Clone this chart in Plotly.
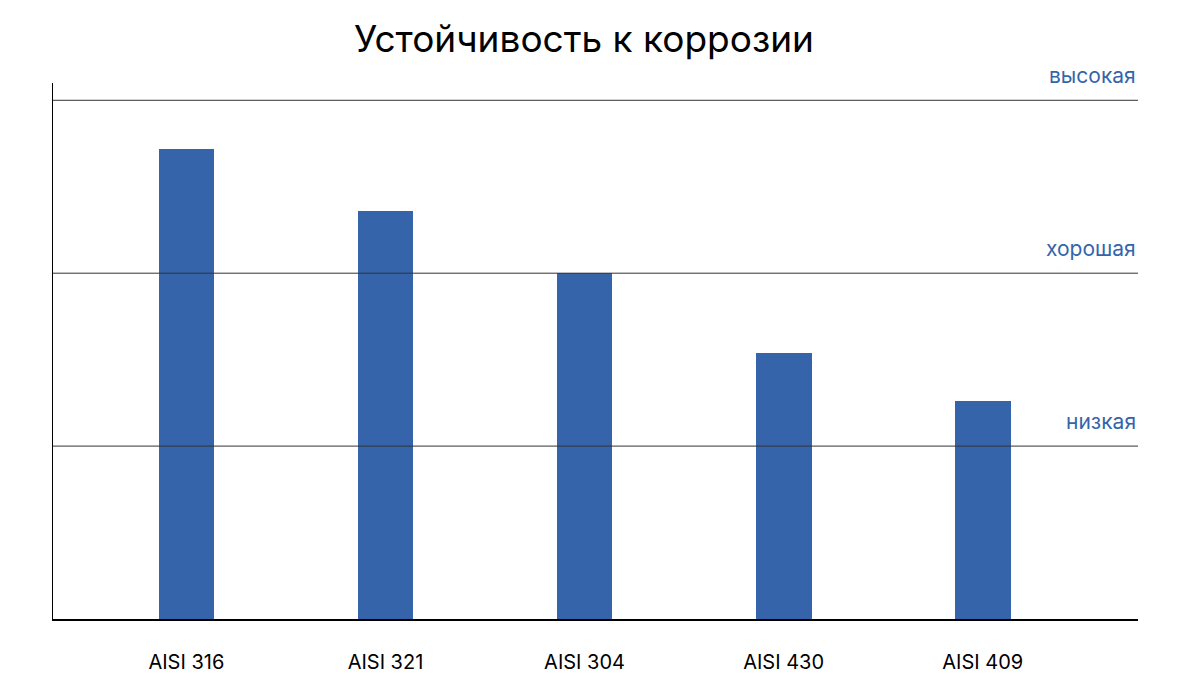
import plotly.graph_objects as go

steels = ["AISI 316", "AISI 321", "AISI 304", "AISI 430", "AISI 409"]
resistance = [2.72, 2.36, 2.0, 1.54, 1.26]
level_names = ["низкая", "хорошая", "высокая"]
level_values = [1, 2, 3]

blue = "#3564ab"

fig = go.Figure()
fig.add_trace(go.Bar(x=list(range(len(steels))), y=resistance, width=0.28,
                     marker_color=blue, marker_line_width=0))

for name, val in zip(level_names, level_values):
    fig.add_hline(y=val, line_color="#333333", line_width=1)
    fig.add_annotation(x=1, xref="paper", y=val, yref="y", text=name,
                       showarrow=False, xanchor="right", yanchor="bottom",
                       yshift=10, font=dict(size=21, color=blue))

fig.update_layout(
    width=1200, height=700,
    margin=dict(l=45, r=70, t=75, b=89),
    plot_bgcolor="white", paper_bgcolor="white",
    font=dict(family="Inter", color="black"),
    title=dict(text="Устойчивость к коррозии", x=0.48, xanchor="center",
               y=0.955, yanchor="middle", font=dict(size=37)),
    showlegend=False,
    bargap=0,
)
fig.update_xaxes(range=[-0.67, 4.78], tickvals=list(range(len(steels))),
                 ticktext=steels, ticks="", ticklabelstandoff=24,
                 tickfont=dict(size=20), showline=True, linecolor="black",
                 linewidth=2, showgrid=False, zeroline=False)
fig.update_yaxes(range=[0, 3.1], showticklabels=False, showgrid=False,
                 zeroline=False, showline=True, linecolor="black", linewidth=1)

fig.write_html("out.html")
